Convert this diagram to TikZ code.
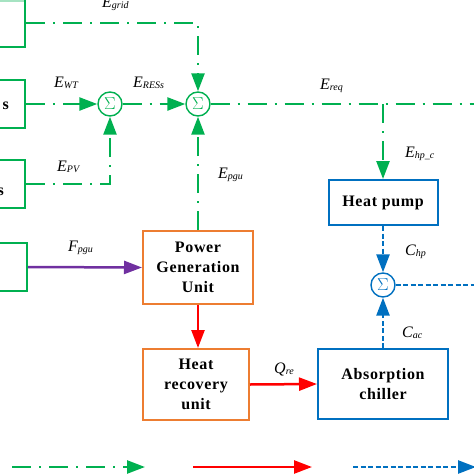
\documentclass[tikz,border=0pt]{standalone}
\usepackage{fontspec}
\setmainfont{Liberation Serif}
\newfontfamily\boxfont{Liberation Serif}[LetterSpace=4]
\usetikzlibrary{arrows.meta}
\definecolor{cgreen}{HTML}{00B050}
\definecolor{cblue}{HTML}{0070C0}
\definecolor{corange}{HTML}{ED7D31}
\definecolor{cred}{HTML}{FF0000}
\definecolor{cpurple}{HTML}{7030A0}
\newcommand\sublab[2]{#1\raisebox{-1.5pt}{\fontsize{10}{10}\selectfont #2}}
\tikzset{
  gbox/.style={draw=cgreen, line width=2pt, inner sep=0pt},
  obox/.style={draw=corange, line width=2pt, align=center, inner sep=0pt,
    font=\boxfont\bfseries\fontsize{16}{20}\selectfont},
  bbox/.style={draw=cblue, line width=2pt, align=center, inner sep=0pt,
    font=\boxfont\bfseries\fontsize{16}{20}\selectfont},
  boxtext/.style={inner sep=0pt, font=\boxfont\bfseries\fontsize{16}{20}\selectfont},
  sig/.style={circle, draw, line width=1.4pt, minimum size=24pt, inner sep=0pt,
    font=\fontsize{17}{17}\selectfont},
  gflow/.style={draw=cgreen, line width=2.5pt, dash pattern=on 19pt off 8pt on 2pt off 8pt},
  bflow/.style={draw=cblue, line width=2.5pt, dash pattern=on 5pt off 2.5pt},
  rflow/.style={draw=cred, line width=2.5pt},
  pflow/.style={draw=cpurple, line width=2.5pt},
  tip/.style={-{Triangle[length=18pt,width=13pt]}},
  lab/.style={anchor=base west, inner sep=0pt, font=\fontsize{16}{16}\selectfont\itshape},
}
\begin{document}
\begin{tikzpicture}[x=1pt,y=-1pt]
\useasboundingbox (0,0) rectangle (474,474);
\fill[cgreen!35] (0,0) rectangle (25,2);
% left boxes
\node[gbox, minimum width=50pt, minimum height=48pt] (b1) at (0,23) {};
\node[gbox, minimum width=50pt, minimum height=48pt] (b2) at (0,104) {};
\node[gbox, minimum width=50pt, minimum height=48pt] (b3) at (0,184) {};
\node[gbox, minimum width=50pt, minimum height=48pt] (b4) at (2,267) {};
\node[boxtext, anchor=east] (b2s) at (9,106) {s};
\node[boxtext, anchor=east] (b3s) at (4,192) {s};
% sums
\node[sig, draw=cgreen, text=cgreen] (s1) at (110,104) {$\Sigma$};
\node[sig, draw=cgreen, text=cgreen] (s2) at (198,104) {$\Sigma$};
\node[sig, draw=cblue, text=cblue] (s3) at (383,285) {$\Sigma$};
% boxes
\node[obox, minimum width=110pt, minimum height=73pt] (pgu) at (198,267.5) {Power\\Generation\\Unit};
\node[obox, minimum width=106pt, minimum height=71pt] (hru) at (196,384.5) {Heat\\recovery\\unit};
\node[bbox, minimum width=109pt, minimum height=45pt] (hp) at (383,202.5) {Heat pump};
\node[bbox, minimum width=130pt, minimum height=70pt] (ac) at (383,384) {Absorption\\chiller};
% coordinates
\coordinate (br) at (383,104);
\coordinate (eR) at (474,104);
\coordinate (bR) at (474,285);
\coordinate (lg1a) at (12,467);
\coordinate (lg1b) at (145,467);
\coordinate (lg2a) at (193,467);
\coordinate (lg2b) at (312,467);
\coordinate (lg3a) at (353,467);
\coordinate (lg3b) at (476,467);
% green flows
\draw[gflow, tip] (b1.east) -| (s2.north);
\draw[gflow, tip] (b2.east) -- (s1.west);
\draw[gflow, tip] (s1.east) -- (s2.west);
\draw[gflow, tip] (b3.east) -| (s1.south);
\draw[gflow, tip] (pgu.north) -- (s2.south);
\draw[gflow] (s2.east) -- (eR);
\draw[gflow, tip] (br) -- (hp.north);
% blue flows
\draw[bflow, tip] (hp.south) -- (s3.north);
\draw[bflow, tip] (ac.north) -- (s3.south);
\draw[bflow] (s3.east) -- (bR);
% red / purple
\draw[pflow, tip] (b4.east) -- (pgu.west);
\draw[rflow, tip] (pgu.south) -- (pgu.south |- hru.north);
\draw[rflow, tip] (hru.east) -- (ac.west);
% legend
\draw[gflow, tip] (lg1a) -- (lg1b);
\draw[rflow, tip] (lg2a) -- (lg2b);
\draw[bflow, tip] (lg3a) -- (lg3b);
% labels
\node[lab] (lgrid) at (102,7) {\sublab{E}{grid}};
\node[lab] (lwt) at (54,87) {\sublab{E}{WT}};
\node[lab] (lres) at (133,87) {\sublab{E}{RESs}};
\node[lab] (lpv) at (57,171) {\sublab{E}{PV}};
\node[lab] (lpgu) at (218,178) {\sublab{E}{pgu}};
\node[lab] (lreq) at (320,89) {\sublab{E}{req}};
\node[lab] (lhpc) at (405,157) {\sublab{E}{hp\_c}};
\node[lab] (lfpgu) at (68,251) {\sublab{F}{pgu}};
\node[lab] (lchp) at (405,255) {\sublab{C}{hp}};
\node[lab] (lcac) at (402,337) {\sublab{C}{ac}};
\node[lab] (lqre) at (274,373) {\sublab{Q}{re}};
\end{tikzpicture}
\end{document}
